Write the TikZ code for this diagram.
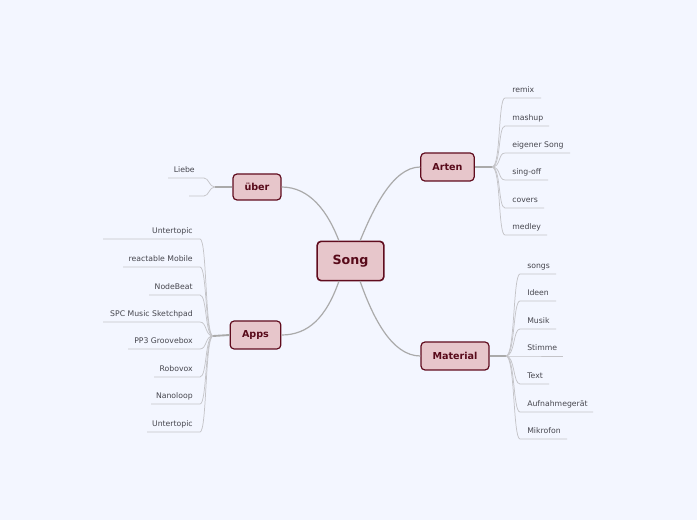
\documentclass[tikz,border=0pt]{standalone}
\usepackage{fontspec}
\setmainfont{DejaVu Sans}
\definecolor{bgc}{RGB}{243,246,255}
\definecolor{nodefill}{RGB}{231,198,203}
\definecolor{nodeborder}{RGB}{96,12,30}
\definecolor{nodetext}{RGB}{88,10,26}
\definecolor{connc}{RGB}{170,170,170}
\definecolor{twigc}{RGB}{196,196,200}
\definecolor{leaftext}{RGB}{70,70,78}
\begin{document}
\begin{tikzpicture}[x=0.75pt,y=-0.75pt,
  main/.style={draw=nodeborder, fill=nodefill, rounded corners=3pt, line width=1.2pt, text=nodetext,
    font=\bfseries\fontsize{9.5}{11}\selectfont, inner sep=0pt, minimum width=50pt, minimum height=29.5pt},
  topic/.style={draw=nodeborder, fill=nodefill, rounded corners=3pt, line width=0.9pt, text=nodetext,
    font=\bfseries\fontsize{7.2}{9}\selectfont, inner sep=0pt, minimum height=21pt},
  leaf/.style={text=leaftext, font=\fontsize{5.8}{7}\selectfont, inner sep=0pt},
  conn/.style={draw=connc, line width=0.9pt},
  trunk/.style={draw=connc, line width=1.4pt},
  twig/.style={draw=twigc, line width=0.55pt}]
\fill[bgc] (0,0) rectangle (697,520);
\useasboundingbox (0,0) rectangle (697,520);

% main nodes
\node[main] (song) at (350.5,261) {Song};
\node[topic, minimum width=40pt] (arten) at (447.5,167) {Arten};
\node[topic, minimum width=51pt] (material) at (455,356) {Material};
\node[topic, minimum width=36pt, minimum height=19.5pt] (uber) at (257,187) {über};
\node[topic, minimum width=38pt] (apps) at (255.5,335) {Apps};

% connector anchors on Song
\coordinate (sNE) at (360,241);
\coordinate (sNW) at (339,241);
\coordinate (sSE) at (360,281);
\coordinate (sSW) at (339,281);

\draw[conn] (sNE) .. controls (372,212) and (392,167) .. (arten.west);
\draw[conn] (sSE) .. controls (373,318) and (392,356) .. (material.west);
\draw[conn] (sNW) .. controls (328,212) and (310,187) .. (uber.east);
\draw[conn] (sSW) .. controls (326,318) and (308,335) .. (apps.east);

% junctions
\coordinate (ja) at (492,167);
\coordinate (jm) at (506,356);
\coordinate (ju) at (215,187);
\coordinate (jp) at (213,336);
\draw[trunk] (arten.east) -- (ja);
\draw[trunk] (material.east) -- (jm);
\draw[trunk] (uber.west) -- (ju);
\draw[trunk] (apps.west) -- (jp);

% Arten leaves
\foreach \t/\y/\r [count=\i] in {remix/98/541, mashup/126/549, {eigener Song}/153/570, sing-off/180/548, covers/208/544, medley/235/547}{
  \node[leaf, anchor=base west] (a\i) at (512,\y-5) {\t};
  \coordinate (as\i) at (505,\y);
  \coordinate (ae\i) at (\r,\y);
  \draw[twig] (ja) .. controls +(9,0) and +(-7,0) .. (as\i) -- (ae\i);
}

% Material leaves
\foreach \t/\y/\r [count=\i] in {songs/274/556, Ideen/301/556, Musik/329/556, Stimme/356/563, Text/384/549, Aufnahmegerät/412/593, Mikrofon/439/567}{
  \node[leaf, anchor=base west] (m\i) at (527,\y-5) {\t};
  \coordinate (ms\i) at (520,\y);
  \coordinate (me\i) at (\r,\y);
  \draw[twig] (jm) .. controls +(9,0) and +(-7,0) .. (ms\i) -- (me\i);
}

% über leaves
\node[leaf, anchor=base east] (u1) at (195,173) {Liebe};
\coordinate (us1) at (204,178);
\coordinate (ue1) at (168,178);
\coordinate (us2) at (204,196);
\coordinate (ue2) at (189,196);
\draw[twig] (ju) .. controls +(-6,0) and +(5,0) .. (us1) -- (ue1);
\draw[twig] (ju) .. controls +(-6,0) and +(5,0) .. (us2) -- (ue2);

% Apps leaves
\foreach \t/\y/\l [count=\i] in {Untertopic/239/103, {reactable Mobile}/267/123, NodeBeat/295/149, {SPC Music Sketchpad}/322/103, {PP3 Groovebox}/349/128, Robovox/377/154, Nanoloop/404/151, Untertopic/432/147}{
  \node[leaf, anchor=base east] (p\i) at (193,\y-5) {\t};
  \coordinate (ps\i) at (200,\y);
  \coordinate (pe\i) at (\l,\y);
  \draw[twig] (jp) .. controls +(-8,0) and +(7,0) .. (ps\i) -- (pe\i);
}
\end{tikzpicture}
\end{document}
